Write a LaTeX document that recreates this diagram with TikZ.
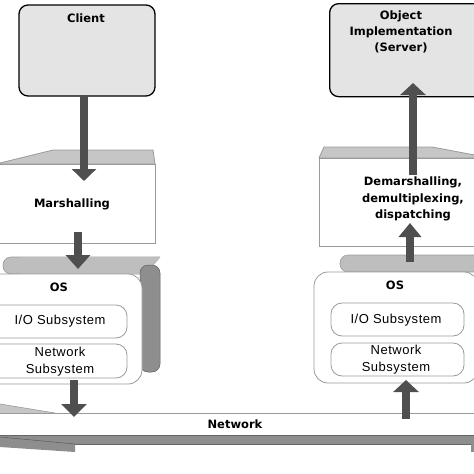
\documentclass[tikz,border=0pt]{standalone}
\usepackage{fontspec}
\setmainfont{DejaVu Sans}
\newfontfamily\subfont[LetterSpace=4]{Liberation Sans}
\usetikzlibrary{arrows.meta}
\definecolor{boxgray}{HTML}{E4E4E4}
\definecolor{arrowgray}{HTML}{4F4F4F}
\definecolor{facegray}{HTML}{C6C6C6}
\definecolor{edgegray}{HTML}{9A9A9A}
\definecolor{bargray}{HTML}{8E8E8E}
\definecolor{slabgray}{HTML}{BEBEBE}
\begin{document}
\begin{tikzpicture}[x=1pt,y=-1pt,
  lbl/.style={font=\fontsize{11.5}{16}\selectfont\bfseries, align=center, inner sep=0pt},
  sublbl/.style={font=\fontsize{13}{17}\selectfont\subfont, align=center, inner sep=0pt},
  apibox/.style={draw=black, line width=1.3pt, fill=boxgray, rounded corners=9pt},
  topface/.style={draw=edgegray, line width=0.8pt, fill=facegray},
  frontface/.style={draw=edgegray, line width=0.8pt, fill=white},
  slab/.style={draw=edgegray, line width=0.6pt, fill=slabgray},
  osbox/.style={draw=edgegray, line width=0.8pt, fill=white, rounded corners=14pt},
  subbox/.style={draw=edgegray, line width=0.8pt, fill=white, rounded corners=11pt},
  blockarrow/.style={draw=arrowgray, line width=8pt, -{Triangle[width=25pt,length=13pt]}}
]
\useasboundingbox (0,0) rectangle (474,474);
\clip (0,0) rectangle (474,474);

% ---------- Network bar ----------
\fill[facegray] (0,404) -- (55,413) -- (0,413) -- cycle;
\draw[edgegray, line width=0.6pt] (0,404) -- (55,413);
\draw[frontface, draw=edgegray] (-2,413) rectangle (480,435);
\draw[fill=bargray, draw=gray!80!black, line width=0.6pt] (-2,435) rectangle (480,444);
\fill[bargray] (0,444) -- (75,444) -- (75,452) -- (0,447) -- cycle;
\draw[gray!70!black, line width=0.5pt] (0,437) -- (75,444);
\fill[bargray] (471,444) rectangle (474,452);
\node[lbl] (net) at (235,424) {Network};

% ---------- Left: client side ----------
\node[apibox, minimum width=136pt, minimum height=91pt] (client) at (87,50.5) {};
\node[lbl] (clientlbl) at (86,18) {Client};

\draw[topface] (0,163) -- (53,150) -- (153,150) -- (155,164) -- (0,164) -- cycle;
\draw[frontface] (-2,164) rectangle (155,243);
\node[lbl] (marsh) at (72,204) {Marshalling};

% OS slab and side bar
\draw[slab, rounded corners=8pt] (160,257) -- (3,257) -- (3,274) -- (145,274);
\draw[slab] (145,274) -- (160,257);
\fill[slabgray] (145,274) -- (160,257) -- (20,257) -- (20,274) -- cycle;
\draw[fill=bargray, draw=gray!75!black, line width=0.5pt, rounded corners=8pt] (140,265) rectangle (160,372);

\draw[osbox] (-20,274) rectangle (142,384);
\node[lbl] (osl) at (59,287) {OS};
\draw[subbox] (-20,305) rectangle (127,338);
\node[sublbl] (iol) at (60,321) {I/O Subsystem};
\draw[subbox] (-20,344) rectangle (127,378);
\node[sublbl] (netsubl) at (60,361.5) {Network\\Subsystem};

% ---------- Right: server side ----------
\node[apibox, minimum width=153pt, minimum height=93pt, anchor=north west] (server) at (329,3) {};
\node[lbl] (serverlbl) at (401,32) {Object\\Implementation\\(Server)};

\draw[topface] (319,158) -- (324,147) -- (432,147) -- (480,156) -- (480,158) -- cycle;
\draw[frontface] (319,158) rectangle (480,246);
\node[lbl, font=\fontsize{11.5}{16.5}\selectfont\bfseries] (demarsh) at (413,199) {Demarshalling,\\demultiplexing,\\dispatching};

\draw[slab, rounded corners=8pt] (480,255) -- (340,255) -- (340,272) -- (480,272);

\draw[osbox] (314,272) rectangle (478,383);
\node[lbl] (osr) at (395,285) {OS};
\draw[subbox] (331,303) rectangle (464,336);
\node[sublbl] (ior) at (396,320) {I/O Subsystem};
\draw[subbox] (331,343) rectangle (464,376);
\node[sublbl] (netsubr) at (396,360) {Network\\Subsystem};

% ---------- Arrows ----------
\coordinate (a1s) at (84,96);   \coordinate (a1e) at (84,181);
\coordinate (a2s) at (78,232);  \coordinate (a2e) at (78,269);
\coordinate (a3s) at (74,380);  \coordinate (a3e) at (74,417);
\coordinate (a4s) at (413,175); \coordinate (a4e) at (413,83);
\coordinate (a5s) at (410,262); \coordinate (a5e) at (410,223);
\coordinate (a6s) at (406,419); \coordinate (a6e) at (406,380);

\draw[blockarrow, -{Triangle[width=24pt,length=12pt]}] (a1s) -- (a1e);
\draw[blockarrow, -{Triangle[width=24pt,length=14pt]}] (a2s) -- (a2e);
\draw[blockarrow] (a3s) -- (a3e);
\draw[blockarrow, -{Triangle[width=25pt,length=12pt]}] (a4s) -- (a4e);
\draw[blockarrow, -{Triangle[width=22pt,length=14pt]}] (a5s) -- (a5e);
\draw[blockarrow, -{Triangle[width=25pt,length=12pt]}] (a6s) -- (a6e);
\end{tikzpicture}
\end{document}
